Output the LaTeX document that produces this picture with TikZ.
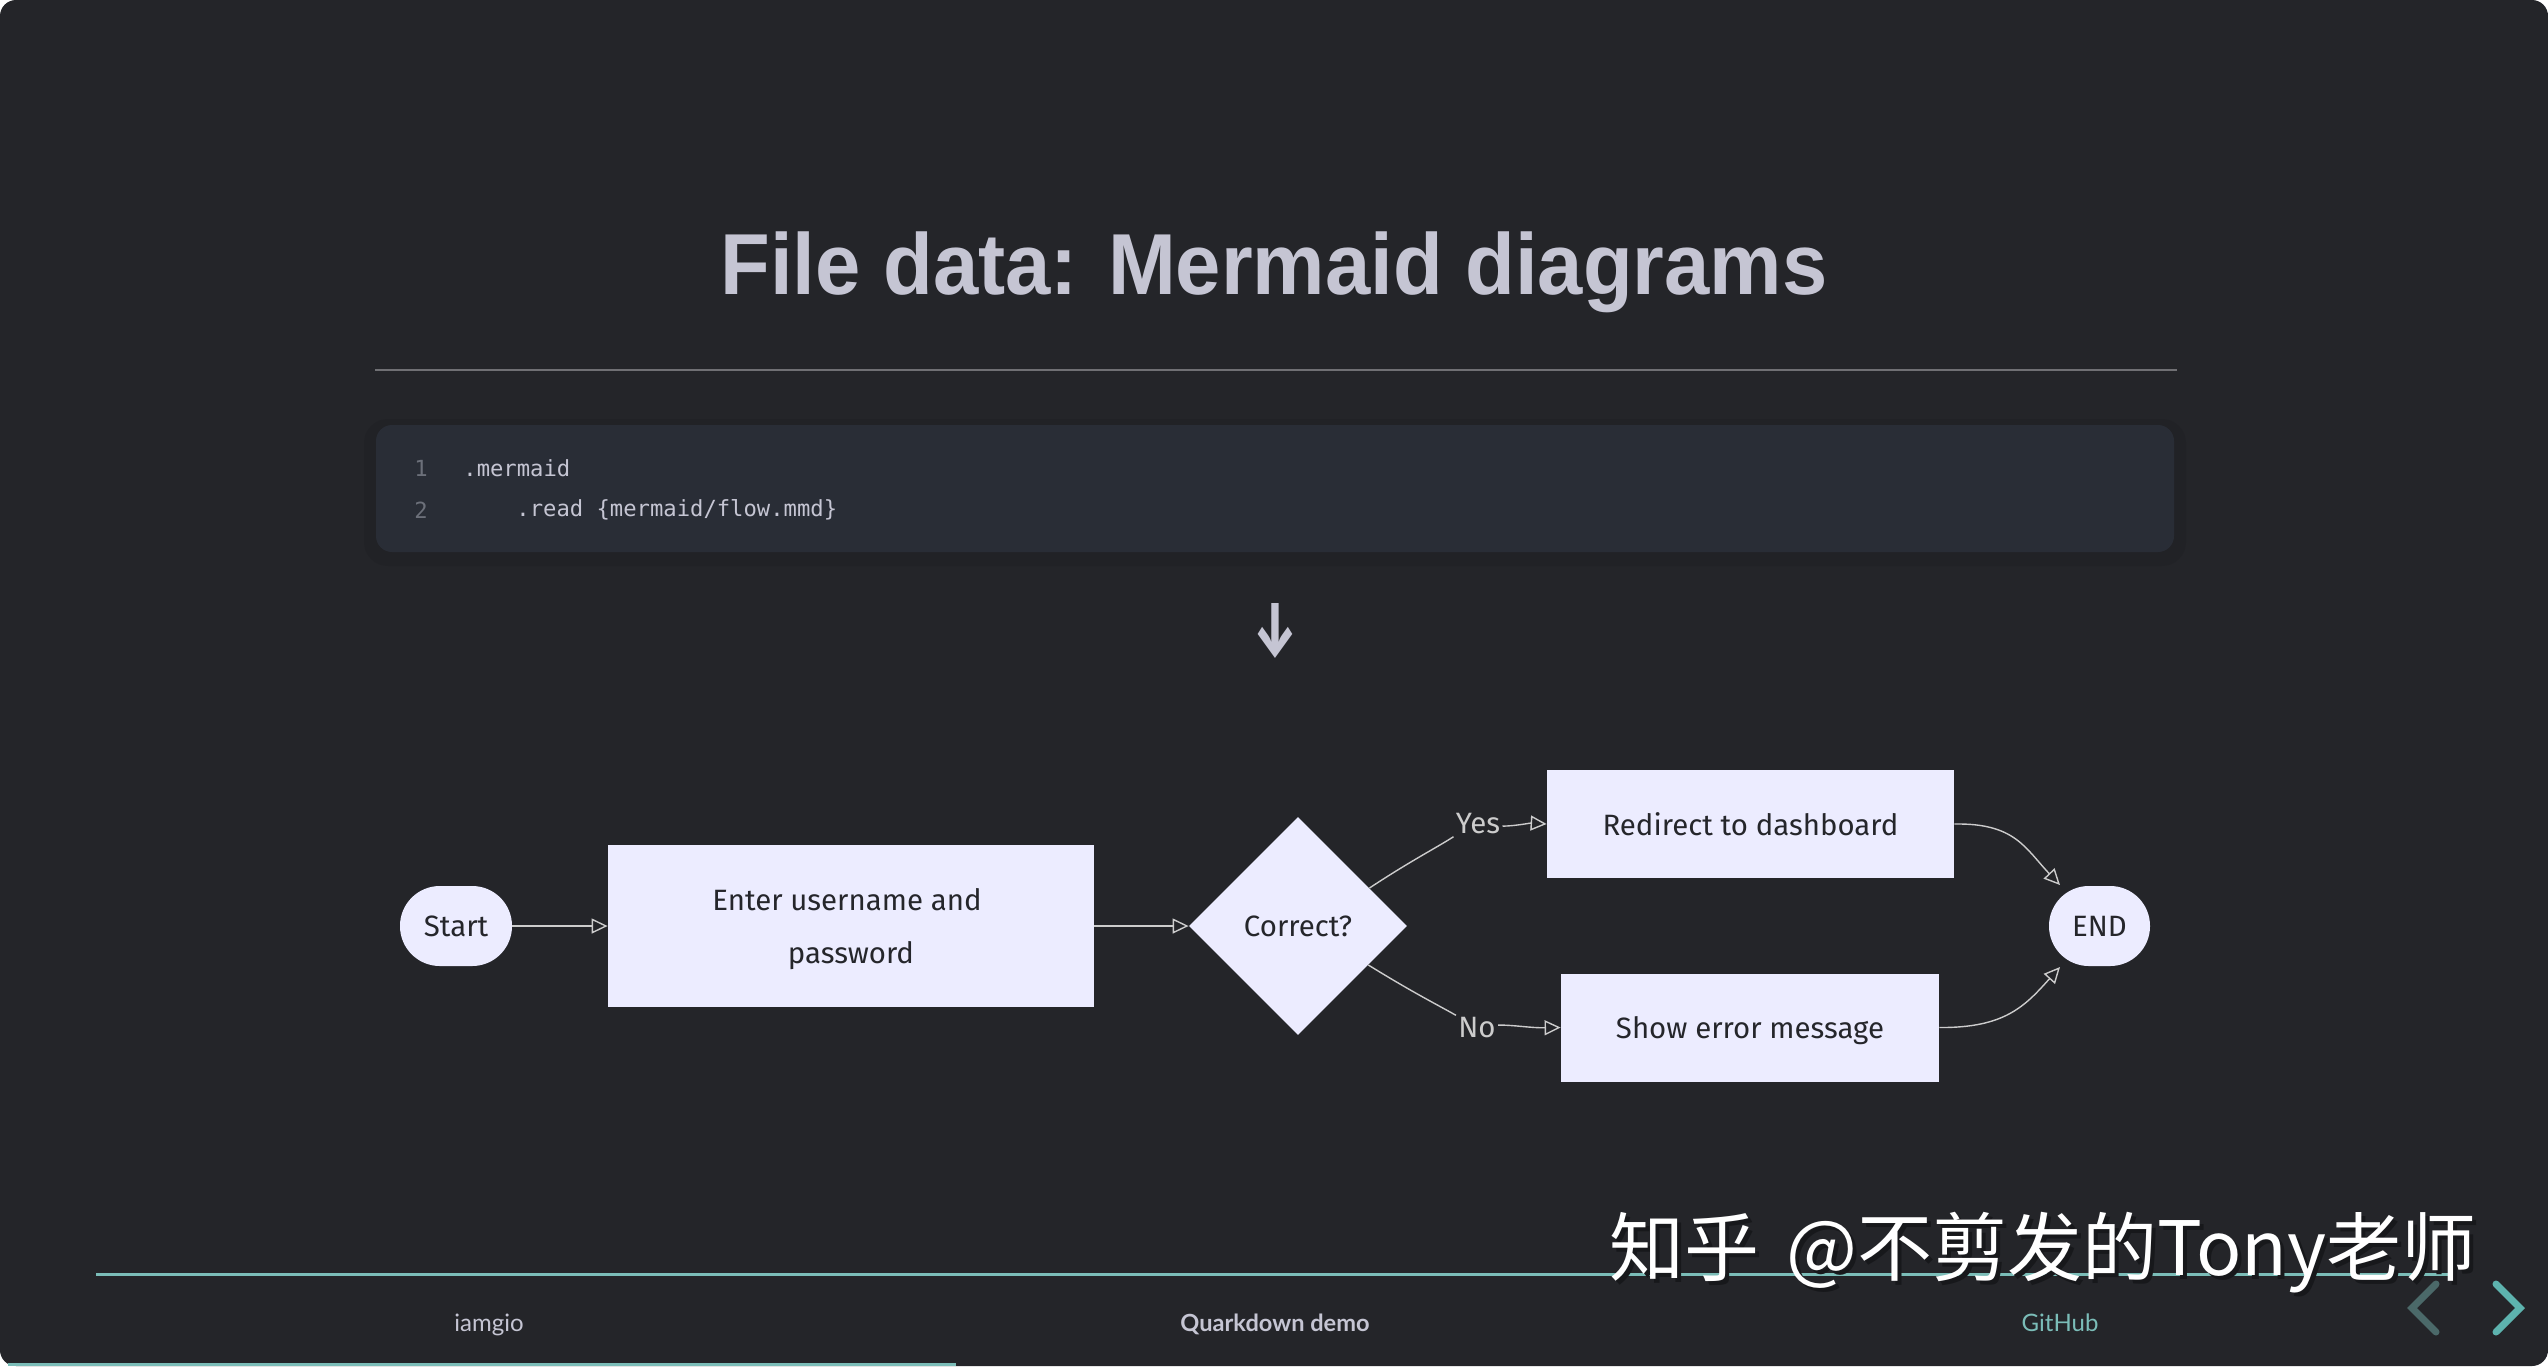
\documentclass[tikz,border=0pt]{standalone}
\usepackage{graphicx}
\usepackage{fontspec}
\setmainfont{Fira Sans}
\newfontfamily\titlefont{Liberation Sans}
\newfontfamily\footfont{Lato}
\newfontfamily\codefont{DejaVu Sans Mono}
\newfontfamily\markfont{Noto Sans CJK SC}
\usetikzlibrary{arrows.meta,shapes.geometric}
\definecolor{slidebg}{HTML}{242529}
\definecolor{codebg}{HTML}{292D36}
\definecolor{titlecol}{HTML}{C5C5D3}
\definecolor{numcol}{HTML}{6C707A}
\definecolor{rulecol}{HTML}{707074}
\definecolor{nodefill}{HTML}{ECECFF}
\definecolor{nodetext}{HTML}{25262B}
\definecolor{edgecol}{HTML}{CCCCCC}
\definecolor{tealcol}{HTML}{7BBDB8}
\definecolor{chevroncol}{HTML}{5DB3AE}
\definecolor{markdark}{HTML}{17181B}
\tikzset{
	boxnode/.style={rectangle, fill=nodefill, text=nodetext, inner sep=0pt, font=\fontsize{14.7}{16.5}\selectfont, align=center},
	pillnode/.style={boxnode, minimum height=40pt, rounded corners=19.9pt},
	edgelabel/.style={text=edgecol, inner sep=1pt, font=\fontsize{14.7}{16.5}\selectfont},
	flowline/.style={draw=edgecol, line width=0.7pt},
	flowarrow/.style={flowline, -{Triangle[open, length=8pt, width=7.5pt, fill=slidebg]}},
	codetext/.style={text=titlecol, inner sep=0pt, anchor=west, font=\codefont\fontsize{11.1}{13}\selectfont},
	linenum/.style={codetext, text=numcol},
	footlabel/.style={inner sep=0pt, anchor=base, font=\footfont\fontsize{12}{14}\selectfont},
	marktext/.style={inner sep=0pt, font=\markfont\fontsize{37.5}{44}\selectfont}
}

\begin{document}
\begin{tikzpicture}[x=0.5pt, y=-0.5pt]
	\useasboundingbox (0, 0) rectangle (2548, 1366);
	\fill[white] (0, 0) rectangle (2548, 1366);
	\fill[slidebg, rounded corners=8pt] (0, 0) rectangle (2548, 1366);

	% Heading
	\node[text=titlecol, inner sep=0pt, anchor=base, font=\titlefont\bfseries\fontsize{43.3}{50}\selectfont] (title) at (1274, 294) {\scalebox{0.94}[1]{File data: Mermaid diagrams}};
	\draw[rulecol, line width=1.2pt] (375, 370) -- (2177, 370);

	% Code block
	\fill[black, opacity=0.07, rounded corners=12pt] (364, 419) rectangle (2186, 566);
	\fill[codebg, rounded corners=8pt] (376, 425) rectangle (2174, 552);
	\node[linenum] (num1) at (414, 468) {1};
	\node[linenum] (num2) at (414, 510) {2};
	\node[codetext] (code1) at (463, 468) {.mermaid};
	\node[codetext] (code2) at (516, 510) {.read \{mermaid/flow.mmd\}};
	\node[text=titlecol, inner sep=0pt, font=\bfseries\fontsize{30}{40}\selectfont] (down) at (1275, 631) {\scalebox{0.85}[1.3]{↓}};

	% Flowchart
	\node[pillnode, minimum width=56pt] (start) at (456, 926) {Start};
	\node[boxnode, minimum width=243pt, minimum height=81pt, text depth=0pt, font=\fontsize{14.7}{26.5}\selectfont] (login) at (851, 926) {Enter username and\hspace*{4pt}\\password};
	\node[boxnode, diamond, aspect=1, minimum width=109pt, minimum height=109pt] (check) at (1298, 926) {Correct?};
	\node[boxnode, minimum width=203.5pt, minimum height=54pt] (redirect) at (1750.5, 824) {Redirect to dashboard};
	\node[boxnode, minimum width=189pt, minimum height=54pt, text depth=0pt] (showerr) at (1750, 1027.5) {Show error message};
	\node[pillnode, minimum width=50.5pt] (finish) at (2099.5, 926) {END};
	\node[edgelabel] (yes) at (1478, 824) {Yes};
	\node[edgelabel] (no) at (1477, 1028) {No};
	\coordinate (finishin1) at (2060, 885);
	\coordinate (finishin2) at (2060, 967);

	% Connect
	\draw[flowarrow] (start) -- (login);
	\draw[flowarrow] (login) -- (check);
	\draw[flowline] (check.28) .. controls (1412, 860) and (1436, 848) .. (yes.south west);
	\draw[flowarrow] (yes.-5) .. controls (1515, 826) and (1530, 823) .. (redirect.west);
	\draw[flowline] (check.-29) .. controls (1412, 992) and (1436, 1004) .. (no.north west);
	\draw[flowarrow] (no.8) .. controls (1515, 1025) and (1530, 1028) .. (showerr.west);
	\draw[flowarrow] (redirect.east) .. controls (2015, 823) and (2025, 848) .. (finishin1);
	\draw[flowarrow] (showerr.east) .. controls (2005, 1028) and (2025, 1006) .. (finishin2);

	% Footer
	\draw[tealcol, line width=1.5pt] (96, 1274) -- (2456, 1274);
	\fill[tealcol] (8, 1363) rectangle (956, 1366);
	\node[footlabel, text=titlecol] (author) at (489, 1331) {iamgio};
	\node[footlabel, text=titlecol, font=\footfont\bfseries\fontsize{11.8}{14}\selectfont] (deck) at (1275, 1331) {Quarkdown demo};
	\node[footlabel, text=tealcol] (github) at (2060, 1331) {GitHub};
	\draw[tealcol!45!slidebg, line width=3.5pt, line cap=round] (2436, 1284) -- (2412, 1308) -- (2436, 1332);
	\draw[chevroncol, line width=3.5pt, line cap=round] (2496, 1284) -- (2520, 1308) -- (2496, 1332);

	% Watermark
	\node[marktext, text=markdark] (markshadow) at (2047, 1257) {知乎\hspace*{5pt} @不剪发的Tony老师};
	\node[marktext, text=white] (mark) at (2043, 1253) {知乎\hspace*{5pt} @不剪发的Tony老师};
\end{tikzpicture}
\end{document}
